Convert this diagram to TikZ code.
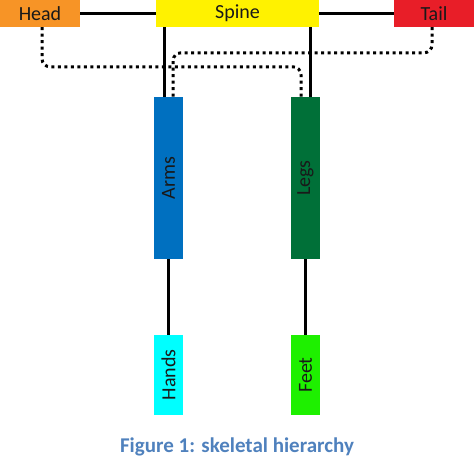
\documentclass[tikz,border=0pt]{standalone}
\usepackage{fontspec}
\setmainfont{Carlito}
\usetikzlibrary{calc}
\definecolor{headc}{RGB}{247,148,38}
\definecolor{spinec}{RGB}{255,242,0}
\definecolor{tailc}{RGB}{232,30,40}
\definecolor{armsc}{RGB}{0,112,192}
\definecolor{legsc}{RGB}{0,112,56}
\definecolor{handsc}{RGB}{0,255,255}
\definecolor{feetc}{RGB}{30,240,0}
\definecolor{capc}{RGB}{79,129,189}
\tikzset{
  box/.style={rectangle, inner sep=0pt, draw=none, font=\fontsize{20}{22}\selectfont, text=black!90},
  vbox/.style={box, minimum width=29pt},
  solidline/.style={line width=3pt, black},
  dotline/.style={line width=3pt, black, dash pattern=on 3pt off 3.5pt, rounded corners=8pt},
}
\begin{document}
\begin{tikzpicture}[x=1pt,y=-1pt]
\useasboundingbox (0,0) rectangle (474,459);
\node[box, fill=headc, minimum width=80pt, minimum height=27pt] (head) at (40,13.5) {Head};
\node[box, fill=spinec, minimum width=163pt, minimum height=27pt] (spine) at (237.5,13.5) {Spine};
\node[box, fill=tailc, minimum width=80pt, minimum height=27pt] (tail) at (434,13.5) {Tail};
\node[vbox, fill=armsc, minimum height=162pt] (arms) at (168.5,178) {\rotatebox{90}{Arms}};
\node[vbox, fill=legsc, minimum height=162pt] (legs) at (305.5,178) {\rotatebox{90}{Legs}};
\node[vbox, fill=handsc, minimum height=80pt] (hands) at (168.5,375) {\rotatebox{90}{Hands}};
\node[vbox, fill=feetc, minimum height=80pt] (feet) at (305.5,375) {\rotatebox{90}{Feet}};
\node[font=\bfseries\fontsize{21}{23}\selectfont, text=capc] (cap) at (237,447) {Figure 1: skeletal hierarchy};
% dotted connectors
\draw[dotline] ([xshift=2pt]head.south) |- ([xshift=-4.5pt,yshift=30pt]legs.north) -- ([xshift=-4.5pt]legs.north);
\draw[dotline] ([xshift=-2pt]tail.south) |- ([xshift=4.5pt,yshift=44pt]arms.north) -- ([xshift=4.5pt]arms.north);
% solid connectors
\draw[solidline] (head.east) -- (spine.west);
\draw[solidline] (spine.east) -- (tail.west);
\draw[solidline] ([xshift=-4.5pt]arms.north) -- ([xshift=-4.5pt]arms.north |- spine.south);
\draw[solidline] ([xshift=4.5pt]legs.north) -- ([xshift=4.5pt]legs.north |- spine.south);
\draw[solidline] (arms.south) -- (hands.north);
\draw[solidline] (legs.south) -- (feet.north);
\end{tikzpicture}
\end{document}
